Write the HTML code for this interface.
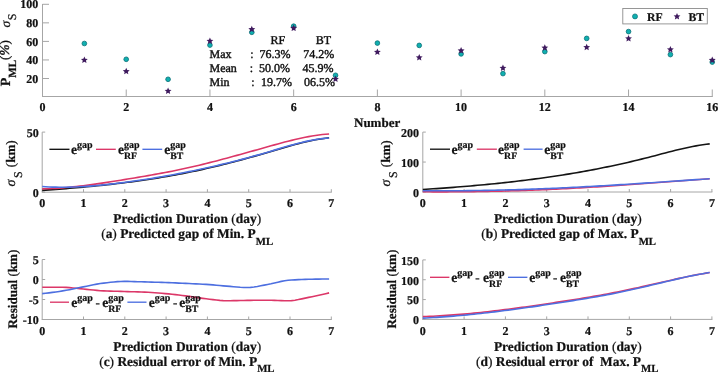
<!DOCTYPE html>
<html><head><meta charset="utf-8"><style>
html,body{margin:0;padding:0;background:#fff;width:718px;height:372px;overflow:hidden}
svg{display:block}
text{font-family:"Liberation Serif",serif;fill:#111;stroke:#111;stroke-width:0.22px;text-rendering:geometricPrecision}
svg{filter:blur(0.3px)}
text[font-weight="normal"]{stroke-width:0.4px}
</style></head><body>
<svg width="718" height="372" viewBox="0 0 718 372">
<rect width="718" height="372" fill="#fff"/>
<line x1="42.5" y1="4" x2="42.5" y2="96.5" stroke="#a6a6a6" stroke-width="1"/>
<line x1="42" y1="96.5" x2="712.8" y2="96.5" stroke="#a6a6a6" stroke-width="1"/>
<line x1="42.5" y1="78.50" x2="49" y2="78.50" stroke="#a6a6a6" stroke-width="1"/>
<text x="38.30" y="82.60" font-size="12" font-weight="bold" text-anchor="end"  >20</text>
<line x1="42.5" y1="59.95" x2="49" y2="59.95" stroke="#a6a6a6" stroke-width="1"/>
<text x="38.30" y="64.05" font-size="12" font-weight="bold" text-anchor="end"  >40</text>
<line x1="42.5" y1="41.40" x2="49" y2="41.40" stroke="#a6a6a6" stroke-width="1"/>
<text x="38.30" y="45.50" font-size="12" font-weight="bold" text-anchor="end"  >60</text>
<line x1="42.5" y1="22.85" x2="49" y2="22.85" stroke="#a6a6a6" stroke-width="1"/>
<text x="38.30" y="26.95" font-size="12" font-weight="bold" text-anchor="end"  >80</text>
<line x1="42.5" y1="4.30" x2="49" y2="4.30" stroke="#a6a6a6" stroke-width="1"/>
<text x="38.30" y="8.40" font-size="12" font-weight="bold" text-anchor="end"  >100</text>
<text x="42.50" y="111.30" font-size="12" font-weight="bold" text-anchor="middle"  >0</text>
<line x1="126.22" y1="89.5" x2="126.22" y2="96.5" stroke="#a6a6a6" stroke-width="1"/>
<text x="126.22" y="111.30" font-size="12" font-weight="bold" text-anchor="middle"  >2</text>
<line x1="209.94" y1="89.5" x2="209.94" y2="96.5" stroke="#a6a6a6" stroke-width="1"/>
<text x="209.94" y="111.30" font-size="12" font-weight="bold" text-anchor="middle"  >4</text>
<line x1="293.66" y1="89.5" x2="293.66" y2="96.5" stroke="#a6a6a6" stroke-width="1"/>
<text x="293.66" y="111.30" font-size="12" font-weight="bold" text-anchor="middle"  >6</text>
<line x1="377.38" y1="89.5" x2="377.38" y2="96.5" stroke="#a6a6a6" stroke-width="1"/>
<text x="377.38" y="111.30" font-size="12" font-weight="bold" text-anchor="middle"  >8</text>
<line x1="461.10" y1="89.5" x2="461.10" y2="96.5" stroke="#a6a6a6" stroke-width="1"/>
<text x="461.10" y="111.30" font-size="12" font-weight="bold" text-anchor="middle"  >10</text>
<line x1="544.82" y1="89.5" x2="544.82" y2="96.5" stroke="#a6a6a6" stroke-width="1"/>
<text x="544.82" y="111.30" font-size="12" font-weight="bold" text-anchor="middle"  >12</text>
<line x1="628.54" y1="89.5" x2="628.54" y2="96.5" stroke="#a6a6a6" stroke-width="1"/>
<text x="628.54" y="111.30" font-size="12" font-weight="bold" text-anchor="middle"  >14</text>
<line x1="712.26" y1="89.5" x2="712.26" y2="96.5" stroke="#a6a6a6" stroke-width="1"/>
<text x="712.26" y="111.30" font-size="12" font-weight="bold" text-anchor="middle"  >16</text>
<text x="354.00" y="127.20" font-size="13" font-weight="bold" text-anchor="start"  >Number</text>
<circle cx="84.36" cy="43.50" r="2.35" fill="#10b0b0" stroke="#0a6f76" stroke-width="0.8"/>
<circle cx="126.22" cy="59.30" r="2.35" fill="#10b0b0" stroke="#0a6f76" stroke-width="0.8"/>
<circle cx="168.08" cy="79.30" r="2.35" fill="#10b0b0" stroke="#0a6f76" stroke-width="0.8"/>
<circle cx="209.94" cy="45.10" r="2.35" fill="#10b0b0" stroke="#0a6f76" stroke-width="0.8"/>
<circle cx="251.80" cy="32.30" r="2.35" fill="#10b0b0" stroke="#0a6f76" stroke-width="0.8"/>
<circle cx="293.66" cy="26.20" r="2.35" fill="#10b0b0" stroke="#0a6f76" stroke-width="0.8"/>
<circle cx="335.52" cy="75.30" r="2.35" fill="#10b0b0" stroke="#0a6f76" stroke-width="0.8"/>
<circle cx="377.38" cy="43.10" r="2.35" fill="#10b0b0" stroke="#0a6f76" stroke-width="0.8"/>
<circle cx="419.24" cy="45.40" r="2.35" fill="#10b0b0" stroke="#0a6f76" stroke-width="0.8"/>
<circle cx="461.10" cy="53.90" r="2.35" fill="#10b0b0" stroke="#0a6f76" stroke-width="0.8"/>
<circle cx="502.96" cy="73.60" r="2.35" fill="#10b0b0" stroke="#0a6f76" stroke-width="0.8"/>
<circle cx="544.82" cy="51.60" r="2.35" fill="#10b0b0" stroke="#0a6f76" stroke-width="0.8"/>
<circle cx="586.68" cy="38.40" r="2.35" fill="#10b0b0" stroke="#0a6f76" stroke-width="0.8"/>
<circle cx="628.54" cy="31.60" r="2.35" fill="#10b0b0" stroke="#0a6f76" stroke-width="0.8"/>
<circle cx="670.40" cy="54.60" r="2.35" fill="#10b0b0" stroke="#0a6f76" stroke-width="0.8"/>
<circle cx="712.26" cy="62.10" r="2.35" fill="#10b0b0" stroke="#0a6f76" stroke-width="0.8"/>
<polygon points="84.36,56.50 85.35,58.73 87.78,58.99 85.97,60.62 86.48,63.01 84.36,61.79 82.24,63.01 82.75,60.62 80.94,58.99 83.37,58.73" fill="#3f1a5e"/>
<polygon points="126.22,67.80 127.21,70.03 129.64,70.29 127.83,71.92 128.34,74.31 126.22,73.09 124.10,74.31 124.61,71.92 122.80,70.29 125.23,70.03" fill="#3f1a5e"/>
<polygon points="168.08,87.50 169.07,89.73 171.50,89.99 169.69,91.62 170.20,94.01 168.08,92.79 165.96,94.01 166.47,91.62 164.66,89.99 167.09,89.73" fill="#3f1a5e"/>
<polygon points="209.94,37.40 210.93,39.63 213.36,39.89 211.55,41.52 212.06,43.91 209.94,42.69 207.82,43.91 208.33,41.52 206.52,39.89 208.95,39.63" fill="#3f1a5e"/>
<polygon points="251.80,25.80 252.79,28.03 255.22,28.29 253.41,29.92 253.92,32.31 251.80,31.09 249.68,32.31 250.19,29.92 248.38,28.29 250.81,28.03" fill="#3f1a5e"/>
<polygon points="293.66,24.60 294.65,26.83 297.08,27.09 295.27,28.72 295.78,31.11 293.66,29.89 291.54,31.11 292.05,28.72 290.24,27.09 292.67,26.83" fill="#3f1a5e"/>
<polygon points="335.52,75.40 336.51,77.63 338.94,77.89 337.13,79.52 337.64,81.91 335.52,80.69 333.40,81.91 333.91,79.52 332.10,77.89 334.53,77.63" fill="#3f1a5e"/>
<polygon points="377.38,48.40 378.37,50.63 380.80,50.89 378.99,52.52 379.50,54.91 377.38,53.69 375.26,54.91 375.77,52.52 373.96,50.89 376.39,50.63" fill="#3f1a5e"/>
<polygon points="419.24,54.00 420.23,56.23 422.66,56.49 420.85,58.12 421.36,60.51 419.24,59.29 417.12,60.51 417.63,58.12 415.82,56.49 418.25,56.23" fill="#3f1a5e"/>
<polygon points="461.10,47.10 462.09,49.33 464.52,49.59 462.71,51.22 463.22,53.61 461.10,52.39 458.98,53.61 459.49,51.22 457.68,49.59 460.11,49.33" fill="#3f1a5e"/>
<polygon points="502.96,64.40 503.95,66.63 506.38,66.89 504.57,68.52 505.08,70.91 502.96,69.69 500.84,70.91 501.35,68.52 499.54,66.89 501.97,66.63" fill="#3f1a5e"/>
<polygon points="544.82,44.20 545.81,46.43 548.24,46.69 546.43,48.32 546.94,50.71 544.82,49.49 542.70,50.71 543.21,48.32 541.40,46.69 543.83,46.43" fill="#3f1a5e"/>
<polygon points="586.68,43.70 587.67,45.93 590.10,46.19 588.29,47.82 588.80,50.21 586.68,48.99 584.56,50.21 585.07,47.82 583.26,46.19 585.69,45.93" fill="#3f1a5e"/>
<polygon points="628.54,35.00 629.53,37.23 631.96,37.49 630.15,39.12 630.66,41.51 628.54,40.29 626.42,41.51 626.93,39.12 625.12,37.49 627.55,37.23" fill="#3f1a5e"/>
<polygon points="670.40,45.90 671.39,48.13 673.82,48.39 672.01,50.02 672.52,52.41 670.40,51.19 668.28,52.41 668.79,50.02 666.98,48.39 669.41,48.13" fill="#3f1a5e"/>
<polygon points="712.26,56.60 713.25,58.83 715.68,59.09 713.87,60.72 714.38,63.11 712.26,61.89 710.14,63.11 710.65,60.72 708.84,59.09 711.27,58.83" fill="#3f1a5e"/>
<rect x="622.8" y="8.5" width="84.5" height="15.4" fill="#fff" stroke="#8c8c8c" stroke-width="0.9"/>
<circle cx="635" cy="16.4" r="2.5" fill="#10b0b0" stroke="#0a6f76" stroke-width="0.7"/>
<text x="647.00" y="20.50" font-size="11.7" font-weight="bold" text-anchor="start"  >RF</text>
<polygon points="677.00,13.00 677.99,15.23 680.42,15.49 678.61,17.12 679.12,19.51 677.00,18.29 674.88,19.51 675.39,17.12 673.58,15.49 676.01,15.23" fill="#3f1a5e"/>
<text x="688.50" y="20.50" font-size="11.7" font-weight="bold" text-anchor="start"  >BT</text>
<text x="270.60" y="44.20" font-size="12" font-weight="normal" text-anchor="start"  >RF</text>
<text x="315.80" y="43.60" font-size="12" font-weight="normal" text-anchor="start"  >BT</text>
<text x="209.50" y="58.20" font-size="12" font-weight="normal" text-anchor="start"  >Max</text>
<text x="251.80" y="58.20" font-size="12" font-weight="normal" text-anchor="middle"  >:</text>
<text x="259.60" y="58.20" font-size="12" font-weight="normal" text-anchor="start"  >76.3%</text>
<text x="303.30" y="58.20" font-size="12" font-weight="normal" text-anchor="start"  >74.2%</text>
<text x="209.50" y="71.90" font-size="12" font-weight="normal" text-anchor="start"  >Mean</text>
<text x="251.30" y="71.90" font-size="12" font-weight="normal" text-anchor="middle"  >:</text>
<text x="259.00" y="71.90" font-size="12" font-weight="normal" text-anchor="start"  >50.0%</text>
<text x="302.50" y="71.90" font-size="12" font-weight="normal" text-anchor="start"  >45.9%</text>
<text x="209.50" y="85.60" font-size="12" font-weight="normal" text-anchor="start"  >Min</text>
<text x="253.00" y="85.60" font-size="12" font-weight="normal" text-anchor="middle"  >:</text>
<text x="261.00" y="85.60" font-size="12" font-weight="normal" text-anchor="start"  >19.7%</text>
<text x="304.00" y="85.60" font-size="12" font-weight="normal" text-anchor="start"  >06.5%</text>
<g transform="translate(10.2,86.3) rotate(-90)"><text x="0" y="0" font-size="14" font-weight="bold">P<tspan font-size="11" dy="5.8">ML</tspan><tspan font-size="13" font-weight="normal" dy="-7.5" dx="-0.1"><tspan font-weight="normal">(</tspan><tspan font-style="italic" font-weight="bold" font-size="13.6">%</tspan><tspan font-weight="normal">)</tspan></tspan></text></g>
<g transform="translate(10.2,27.4) rotate(-90)"><text x="0" y="0" font-size="13.5" font-style="italic">&#963;<tspan font-size="12" font-style="normal" dy="6" dx="0.5">S</tspan></text></g>
<line x1="42.20" y1="132.10" x2="42.20" y2="192.20" stroke="#a6a6a6" stroke-width="1"/>
<line x1="41.70" y1="192.20" x2="331.80" y2="192.20" stroke="#a6a6a6" stroke-width="1"/>
<line x1="42.20" y1="192.20" x2="45.20" y2="192.20" stroke="#a6a6a6" stroke-width="1"/>
<text x="38.70" y="197.00" font-size="12" font-weight="bold" text-anchor="end"  >0</text>
<line x1="42.20" y1="132.10" x2="45.20" y2="132.10" stroke="#a6a6a6" stroke-width="1"/>
<text x="38.70" y="136.90" font-size="12" font-weight="bold" text-anchor="end"  >50</text>
<text x="42.20" y="207.40" font-size="12" font-weight="bold" text-anchor="middle"  >0</text>
<line x1="83.50" y1="189.20" x2="83.50" y2="192.20" stroke="#a6a6a6" stroke-width="1"/>
<text x="83.50" y="207.40" font-size="12" font-weight="bold" text-anchor="middle"  >1</text>
<line x1="124.80" y1="189.20" x2="124.80" y2="192.20" stroke="#a6a6a6" stroke-width="1"/>
<text x="124.80" y="207.40" font-size="12" font-weight="bold" text-anchor="middle"  >2</text>
<line x1="166.10" y1="189.20" x2="166.10" y2="192.20" stroke="#a6a6a6" stroke-width="1"/>
<text x="166.10" y="207.40" font-size="12" font-weight="bold" text-anchor="middle"  >3</text>
<line x1="207.40" y1="189.20" x2="207.40" y2="192.20" stroke="#a6a6a6" stroke-width="1"/>
<text x="207.40" y="207.40" font-size="12" font-weight="bold" text-anchor="middle"  >4</text>
<line x1="248.70" y1="189.20" x2="248.70" y2="192.20" stroke="#a6a6a6" stroke-width="1"/>
<text x="248.70" y="207.40" font-size="12" font-weight="bold" text-anchor="middle"  >5</text>
<line x1="290.00" y1="189.20" x2="290.00" y2="192.20" stroke="#a6a6a6" stroke-width="1"/>
<text x="290.00" y="207.40" font-size="12" font-weight="bold" text-anchor="middle"  >6</text>
<line x1="331.30" y1="189.20" x2="331.30" y2="192.20" stroke="#a6a6a6" stroke-width="1"/>
<text x="331.30" y="207.40" font-size="12" font-weight="bold" text-anchor="middle"  >7</text>
<path d="M42.20,190.39 L45.62,190.15 L49.03,189.90 L52.45,189.65 L55.86,189.39 L59.28,189.13 L62.69,188.86 L66.11,188.59 L69.52,188.31 L72.94,188.02 L76.35,187.73 L79.77,187.43 L83.19,187.12 L86.60,186.81 L90.02,186.48 L93.43,186.15 L96.85,185.81 L100.26,185.46 L103.68,185.11 L107.09,184.74 L110.51,184.36 L113.92,183.98 L117.34,183.58 L120.76,183.17 L124.17,182.75 L127.59,182.32 L131.00,181.88 L134.42,181.43 L137.83,180.96 L141.25,180.48 L144.66,179.99 L148.08,179.49 L151.50,178.97 L154.91,178.44 L158.33,177.89 L161.74,177.33 L165.16,176.75 L168.57,176.16 L171.99,175.55 L175.40,174.93 L178.82,174.29 L182.23,173.64 L185.65,172.97 L189.07,172.28 L192.48,171.57 L195.90,170.85 L199.31,170.11 L202.73,169.36 L206.14,168.59 L209.56,167.80 L212.97,167.00 L216.39,166.19 L219.80,165.36 L223.22,164.52 L226.64,163.66 L230.05,162.80 L233.47,161.91 L236.88,161.02 L240.30,160.11 L243.71,159.19 L247.13,158.26 L250.54,157.32 L253.96,156.36 L257.38,155.40 L260.79,154.42 L264.21,153.44 L267.62,152.44 L271.04,151.44 L274.45,150.43 L277.87,149.42 L281.28,148.42 L284.70,147.43 L288.11,146.45 L291.53,145.50 L294.95,144.57 L298.36,143.67 L301.78,142.81 L305.19,141.99 L308.61,141.21 L312.02,140.49 L315.44,139.83 L318.85,139.22 L322.27,138.69 L325.68,138.22 L329.10,137.83" fill="none" stroke="#141414" stroke-width="1.6" stroke-linejoin="round"/>
<path d="M42.20,188.91 L45.62,188.82 L49.03,188.70 L52.45,188.53 L55.86,188.34 L59.28,188.11 L62.69,187.85 L66.11,187.57 L69.52,187.25 L72.94,186.91 L76.35,186.54 L79.77,186.15 L83.19,185.74 L86.60,185.30 L90.02,184.85 L93.43,184.38 L96.85,183.90 L100.26,183.40 L103.68,182.88 L107.09,182.36 L110.51,181.83 L113.92,181.29 L117.34,180.74 L120.76,180.19 L124.17,179.63 L127.59,179.07 L131.00,178.51 L134.42,177.94 L137.83,177.37 L141.25,176.80 L144.66,176.21 L148.08,175.62 L151.50,175.02 L154.91,174.41 L158.33,173.79 L161.74,173.16 L165.16,172.52 L168.57,171.86 L171.99,171.18 L175.40,170.50 L178.82,169.79 L182.23,169.07 L185.65,168.33 L189.07,167.57 L192.48,166.79 L195.90,165.99 L199.31,165.18 L202.73,164.35 L206.14,163.51 L209.56,162.65 L212.97,161.78 L216.39,160.90 L219.80,160.00 L223.22,159.10 L226.64,158.18 L230.05,157.26 L233.47,156.33 L236.88,155.39 L240.30,154.45 L243.71,153.50 L247.13,152.55 L250.54,151.59 L253.96,150.63 L257.38,149.67 L260.79,148.71 L264.21,147.75 L267.62,146.79 L271.04,145.83 L274.45,144.88 L277.87,143.94 L281.28,143.01 L284.70,142.10 L288.11,141.22 L291.53,140.36 L294.95,139.54 L298.36,138.75 L301.78,138.00 L305.19,137.29 L308.61,136.64 L312.02,136.03 L315.44,135.49 L318.85,135.00 L322.27,134.58 L325.68,134.23 L329.10,133.95" fill="none" stroke="#dc3768" stroke-width="1.6" stroke-linejoin="round"/>
<path d="M42.20,186.53 L45.62,186.76 L49.03,186.94 L52.45,187.08 L55.86,187.17 L59.28,187.23 L62.69,187.24 L66.11,187.22 L69.52,187.16 L72.94,187.07 L76.35,186.94 L79.77,186.78 L83.19,186.59 L86.60,186.37 L90.02,186.12 L93.43,185.85 L96.85,185.55 L100.26,185.23 L103.68,184.88 L107.09,184.52 L110.51,184.13 L113.92,183.73 L117.34,183.31 L120.76,182.88 L124.17,182.44 L127.59,181.98 L131.00,181.51 L134.42,181.03 L137.83,180.53 L141.25,180.03 L144.66,179.51 L148.08,178.98 L151.50,178.44 L154.91,177.89 L158.33,177.32 L161.74,176.74 L165.16,176.15 L168.57,175.55 L171.99,174.93 L175.40,174.30 L178.82,173.66 L182.23,173.00 L185.65,172.33 L189.07,171.65 L192.48,170.95 L195.90,170.24 L199.31,169.52 L202.73,168.79 L206.14,168.04 L209.56,167.27 L212.97,166.50 L216.39,165.71 L219.80,164.90 L223.22,164.09 L226.64,163.25 L230.05,162.41 L233.47,161.55 L236.88,160.68 L240.30,159.79 L243.71,158.89 L247.13,157.97 L250.54,157.04 L253.96,156.10 L257.38,155.14 L260.79,154.17 L264.21,153.18 L267.62,152.18 L271.04,151.16 L274.45,150.14 L277.87,149.12 L281.28,148.10 L284.70,147.09 L288.11,146.10 L291.53,145.13 L294.95,144.20 L298.36,143.30 L301.78,142.45 L305.19,141.65 L308.61,140.90 L312.02,140.22 L315.44,139.61 L318.85,139.07 L322.27,138.62 L325.68,138.26 L329.10,137.99" fill="none" stroke="#4d6fe0" stroke-width="1.6" stroke-linejoin="round"/>
<line x1="49.40" y1="149.30" x2="69.50" y2="149.30" stroke="#141414" stroke-width="1.35"/>
<text x="71.00" y="153.60" font-size="13.6" font-weight="bold" text-anchor="start"  >e</text>
<text x="77.00" y="147.90" font-size="10" font-weight="bold" text-anchor="start"  >gap</text>
<line x1="96.00" y1="149.30" x2="115.80" y2="149.30" stroke="#dc3768" stroke-width="1.35"/>
<text x="117.90" y="153.60" font-size="13.6" font-weight="bold" text-anchor="start"  >e</text>
<text x="123.90" y="147.90" font-size="10" font-weight="bold" text-anchor="start"  >gap</text>
<text x="123.90" y="159.10" font-size="9.8" font-weight="bold" text-anchor="start"  >RF</text>
<line x1="142.40" y1="149.30" x2="162.20" y2="149.30" stroke="#4d6fe0" stroke-width="1.35"/>
<text x="164.30" y="153.60" font-size="13.6" font-weight="bold" text-anchor="start"  >e</text>
<text x="170.30" y="147.90" font-size="10" font-weight="bold" text-anchor="start"  >gap</text>
<text x="170.30" y="159.10" font-size="9.8" font-weight="bold" text-anchor="start"  >BT</text>
<g transform="translate(15.20,186.60) rotate(-90)"><text x="0" y="0"><tspan font-size="14" font-style="italic">&#963;</tspan><tspan font-size="12" dy="6.9" dx="1.6">S</tspan><tspan font-size="13.1" font-weight="bold" dy="-7.1" dx="0.9"> <tspan font-weight="normal">(</tspan>km<tspan font-weight="normal">)</tspan></tspan></text></g>
<text x="187.20" y="222.90" font-size="13.4" font-weight="bold" text-anchor="middle"  >Prediction Duration <tspan font-weight="normal">(</tspan>day<tspan font-weight="normal">)</tspan></text>
<text x="101.20" y="238.20" font-size="13.4" font-weight="bold"><tspan font-weight="normal">(</tspan>a<tspan font-weight="normal">)</tspan> Predicted gap of Min. P<tspan font-size="10.8" dy="6.6">ML</tspan></text>
<line x1="422.80" y1="132.10" x2="422.80" y2="192.00" stroke="#a6a6a6" stroke-width="1"/>
<line x1="422.30" y1="192.00" x2="712.40" y2="192.00" stroke="#a6a6a6" stroke-width="1"/>
<line x1="422.80" y1="192.00" x2="425.80" y2="192.00" stroke="#a6a6a6" stroke-width="1"/>
<text x="419.00" y="196.80" font-size="12" font-weight="bold" text-anchor="end"  >0</text>
<line x1="422.80" y1="162.05" x2="425.80" y2="162.05" stroke="#a6a6a6" stroke-width="1"/>
<text x="419.00" y="166.85" font-size="12" font-weight="bold" text-anchor="end"  >100</text>
<line x1="422.80" y1="132.10" x2="425.80" y2="132.10" stroke="#a6a6a6" stroke-width="1"/>
<text x="419.00" y="136.90" font-size="12" font-weight="bold" text-anchor="end"  >200</text>
<text x="422.80" y="207.40" font-size="12" font-weight="bold" text-anchor="middle"  >0</text>
<line x1="464.10" y1="189.00" x2="464.10" y2="192.00" stroke="#a6a6a6" stroke-width="1"/>
<text x="464.10" y="207.40" font-size="12" font-weight="bold" text-anchor="middle"  >1</text>
<line x1="505.40" y1="189.00" x2="505.40" y2="192.00" stroke="#a6a6a6" stroke-width="1"/>
<text x="505.40" y="207.40" font-size="12" font-weight="bold" text-anchor="middle"  >2</text>
<line x1="546.70" y1="189.00" x2="546.70" y2="192.00" stroke="#a6a6a6" stroke-width="1"/>
<text x="546.70" y="207.40" font-size="12" font-weight="bold" text-anchor="middle"  >3</text>
<line x1="588.00" y1="189.00" x2="588.00" y2="192.00" stroke="#a6a6a6" stroke-width="1"/>
<text x="588.00" y="207.40" font-size="12" font-weight="bold" text-anchor="middle"  >4</text>
<line x1="629.30" y1="189.00" x2="629.30" y2="192.00" stroke="#a6a6a6" stroke-width="1"/>
<text x="629.30" y="207.40" font-size="12" font-weight="bold" text-anchor="middle"  >5</text>
<line x1="670.60" y1="189.00" x2="670.60" y2="192.00" stroke="#a6a6a6" stroke-width="1"/>
<text x="670.60" y="207.40" font-size="12" font-weight="bold" text-anchor="middle"  >6</text>
<line x1="711.90" y1="189.00" x2="711.90" y2="192.00" stroke="#a6a6a6" stroke-width="1"/>
<text x="711.90" y="207.40" font-size="12" font-weight="bold" text-anchor="middle"  >7</text>
<path d="M422.80,189.51 L426.22,189.28 L429.63,189.06 L433.05,188.82 L436.46,188.59 L439.88,188.35 L443.29,188.10 L446.71,187.85 L450.12,187.59 L453.54,187.33 L456.95,187.06 L460.37,186.79 L463.79,186.51 L467.20,186.22 L470.62,185.93 L474.03,185.63 L477.45,185.32 L480.86,185.01 L484.28,184.69 L487.69,184.36 L491.11,184.03 L494.53,183.69 L497.94,183.34 L501.36,182.98 L504.77,182.61 L508.19,182.24 L511.60,181.85 L515.02,181.46 L518.43,181.06 L521.85,180.65 L525.26,180.23 L528.68,179.80 L532.10,179.36 L535.51,178.91 L538.93,178.45 L542.34,177.98 L545.76,177.50 L549.17,177.01 L552.59,176.51 L556.00,176.00 L559.42,175.48 L562.83,174.94 L566.25,174.39 L569.67,173.84 L573.08,173.27 L576.50,172.68 L579.91,172.09 L583.33,171.48 L586.74,170.86 L590.16,170.23 L593.57,169.59 L596.99,168.93 L600.40,168.26 L603.82,167.58 L607.24,166.88 L610.65,166.17 L614.07,165.44 L617.48,164.71 L620.90,163.96 L624.31,163.19 L627.73,162.41 L631.14,161.62 L634.56,160.81 L637.98,159.98 L641.39,159.14 L644.81,158.29 L648.22,157.42 L651.64,156.54 L655.05,155.65 L658.47,154.75 L661.88,153.85 L665.30,152.95 L668.71,152.07 L672.13,151.20 L675.55,150.34 L678.96,149.51 L682.38,148.71 L685.79,147.94 L689.21,147.21 L692.62,146.52 L696.04,145.88 L699.45,145.30 L702.87,144.77 L706.28,144.30 L709.70,143.90" fill="none" stroke="#141414" stroke-width="1.6" stroke-linejoin="round"/>
<path d="M422.80,191.78 L426.22,191.80 L429.63,191.82 L433.05,191.83 L436.46,191.84 L439.88,191.84 L443.29,191.84 L446.71,191.83 L450.12,191.82 L453.54,191.80 L456.95,191.78 L460.37,191.76 L463.79,191.73 L467.20,191.69 L470.62,191.66 L474.03,191.61 L477.45,191.56 L480.86,191.51 L484.28,191.45 L487.69,191.39 L491.11,191.32 L494.53,191.25 L497.94,191.17 L501.36,191.09 L504.77,191.00 L508.19,190.91 L511.60,190.81 L515.02,190.71 L518.43,190.61 L521.85,190.50 L525.26,190.38 L528.68,190.26 L532.10,190.14 L535.51,190.01 L538.93,189.87 L542.34,189.73 L545.76,189.59 L549.17,189.44 L552.59,189.28 L556.00,189.12 L559.42,188.96 L562.83,188.79 L566.25,188.61 L569.67,188.43 L573.08,188.25 L576.50,188.06 L579.91,187.87 L583.33,187.67 L586.74,187.47 L590.16,187.26 L593.57,187.05 L596.99,186.84 L600.40,186.62 L603.82,186.40 L607.24,186.18 L610.65,185.95 L614.07,185.72 L617.48,185.49 L620.90,185.26 L624.31,185.02 L627.73,184.78 L631.14,184.54 L634.56,184.29 L637.98,184.05 L641.39,183.80 L644.81,183.55 L648.22,183.30 L651.64,183.05 L655.05,182.79 L658.47,182.54 L661.88,182.28 L665.30,182.03 L668.71,181.77 L672.13,181.51 L675.55,181.25 L678.96,181.00 L682.38,180.74 L685.79,180.48 L689.21,180.23 L692.62,179.97 L696.04,179.71 L699.45,179.46 L702.87,179.20 L706.28,178.95 L709.70,178.70" fill="none" stroke="#dc3768" stroke-width="1.6" stroke-linejoin="round"/>
<path d="M422.80,190.68 L426.22,190.71 L429.63,190.73 L433.05,190.75 L436.46,190.76 L439.88,190.77 L443.29,190.77 L446.71,190.77 L450.12,190.77 L453.54,190.75 L456.95,190.74 L460.37,190.71 L463.79,190.69 L467.20,190.65 L470.62,190.62 L474.03,190.57 L477.45,190.53 L480.86,190.48 L484.28,190.42 L487.69,190.36 L491.11,190.29 L494.53,190.22 L497.94,190.15 L501.36,190.07 L504.77,189.98 L508.19,189.89 L511.60,189.80 L515.02,189.70 L518.43,189.60 L521.85,189.49 L525.26,189.38 L528.68,189.27 L532.10,189.15 L535.51,189.02 L538.93,188.89 L542.34,188.76 L545.76,188.62 L549.17,188.48 L552.59,188.34 L556.00,188.19 L559.42,188.04 L562.83,187.88 L566.25,187.72 L569.67,187.55 L573.08,187.38 L576.50,187.21 L579.91,187.03 L583.33,186.85 L586.74,186.67 L590.16,186.48 L593.57,186.29 L596.99,186.10 L600.40,185.90 L603.82,185.70 L607.24,185.50 L610.65,185.30 L614.07,185.09 L617.48,184.88 L620.90,184.67 L624.31,184.45 L627.73,184.24 L631.14,184.02 L634.56,183.80 L637.98,183.58 L641.39,183.36 L644.81,183.13 L648.22,182.91 L651.64,182.68 L655.05,182.45 L658.47,182.22 L661.88,181.99 L665.30,181.76 L668.71,181.53 L672.13,181.30 L675.55,181.07 L678.96,180.84 L682.38,180.60 L685.79,180.37 L689.21,180.14 L692.62,179.91 L696.04,179.67 L699.45,179.44 L702.87,179.21 L706.28,178.98 L709.70,178.75" fill="none" stroke="#4d6fe0" stroke-width="1.6" stroke-linejoin="round"/>
<line x1="430.00" y1="149.20" x2="450.00" y2="149.20" stroke="#141414" stroke-width="1.35"/>
<text x="451.50" y="153.50" font-size="13.6" font-weight="bold" text-anchor="start"  >e</text>
<text x="457.50" y="147.80" font-size="10" font-weight="bold" text-anchor="start"  >gap</text>
<line x1="476.80" y1="149.20" x2="496.90" y2="149.20" stroke="#dc3768" stroke-width="1.35"/>
<text x="498.10" y="153.50" font-size="13.6" font-weight="bold" text-anchor="start"  >e</text>
<text x="504.10" y="147.80" font-size="10" font-weight="bold" text-anchor="start"  >gap</text>
<text x="504.10" y="159.00" font-size="9.8" font-weight="bold" text-anchor="start"  >RF</text>
<line x1="523.60" y1="149.20" x2="542.60" y2="149.20" stroke="#4d6fe0" stroke-width="1.35"/>
<text x="544.30" y="153.50" font-size="13.6" font-weight="bold" text-anchor="start"  >e</text>
<text x="550.30" y="147.80" font-size="10" font-weight="bold" text-anchor="start"  >gap</text>
<text x="550.30" y="159.00" font-size="9.8" font-weight="bold" text-anchor="start"  >BT</text>
<g transform="translate(390.20,186.60) rotate(-90)"><text x="0" y="0"><tspan font-size="14" font-style="italic">&#963;</tspan><tspan font-size="12" dy="6.9" dx="1.6">S</tspan><tspan font-size="13.1" font-weight="bold" dy="-7.1" dx="0.9"> <tspan font-weight="normal">(</tspan>km<tspan font-weight="normal">)</tspan></tspan></text></g>
<text x="567.80" y="222.90" font-size="13.4" font-weight="bold" text-anchor="middle"  >Prediction Duration <tspan font-weight="normal">(</tspan>day<tspan font-weight="normal">)</tspan></text>
<text x="481.20" y="238.20" font-size="13.4" font-weight="bold"><tspan font-weight="normal">(</tspan>b<tspan font-weight="normal">)</tspan> Predicted gap of Max. P<tspan font-size="10.8" dy="6.6">ML</tspan></text>
<line x1="42.20" y1="259.60" x2="42.20" y2="319.50" stroke="#a6a6a6" stroke-width="1"/>
<line x1="41.70" y1="319.50" x2="331.80" y2="319.50" stroke="#a6a6a6" stroke-width="1"/>
<line x1="42.20" y1="259.50" x2="45.20" y2="259.50" stroke="#a6a6a6" stroke-width="1"/>
<text x="38.70" y="264.30" font-size="12" font-weight="bold" text-anchor="end"  >5</text>
<line x1="42.20" y1="279.50" x2="45.20" y2="279.50" stroke="#a6a6a6" stroke-width="1"/>
<text x="38.70" y="284.30" font-size="12" font-weight="bold" text-anchor="end"  >0</text>
<line x1="42.20" y1="299.50" x2="45.20" y2="299.50" stroke="#a6a6a6" stroke-width="1"/>
<text x="38.70" y="304.30" font-size="12" font-weight="bold" text-anchor="end"  >-5</text>
<line x1="42.20" y1="319.50" x2="45.20" y2="319.50" stroke="#a6a6a6" stroke-width="1"/>
<text x="38.70" y="324.30" font-size="12" font-weight="bold" text-anchor="end"  >-10</text>
<text x="42.20" y="334.90" font-size="12" font-weight="bold" text-anchor="middle"  >0</text>
<line x1="83.50" y1="316.50" x2="83.50" y2="319.50" stroke="#a6a6a6" stroke-width="1"/>
<text x="83.50" y="334.90" font-size="12" font-weight="bold" text-anchor="middle"  >1</text>
<line x1="124.80" y1="316.50" x2="124.80" y2="319.50" stroke="#a6a6a6" stroke-width="1"/>
<text x="124.80" y="334.90" font-size="12" font-weight="bold" text-anchor="middle"  >2</text>
<line x1="166.10" y1="316.50" x2="166.10" y2="319.50" stroke="#a6a6a6" stroke-width="1"/>
<text x="166.10" y="334.90" font-size="12" font-weight="bold" text-anchor="middle"  >3</text>
<line x1="207.40" y1="316.50" x2="207.40" y2="319.50" stroke="#a6a6a6" stroke-width="1"/>
<text x="207.40" y="334.90" font-size="12" font-weight="bold" text-anchor="middle"  >4</text>
<line x1="248.70" y1="316.50" x2="248.70" y2="319.50" stroke="#a6a6a6" stroke-width="1"/>
<text x="248.70" y="334.90" font-size="12" font-weight="bold" text-anchor="middle"  >5</text>
<line x1="290.00" y1="316.50" x2="290.00" y2="319.50" stroke="#a6a6a6" stroke-width="1"/>
<text x="290.00" y="334.90" font-size="12" font-weight="bold" text-anchor="middle"  >6</text>
<line x1="331.30" y1="316.50" x2="331.30" y2="319.50" stroke="#a6a6a6" stroke-width="1"/>
<text x="331.30" y="334.90" font-size="12" font-weight="bold" text-anchor="middle"  >7</text>
<path d="M42.20,287.30 L45.62,287.30 L49.03,287.30 L52.45,287.30 L55.86,287.30 L59.28,287.30 L62.69,287.30 L66.11,287.38 L69.52,287.61 L72.94,287.93 L76.35,288.29 L79.77,288.67 L83.19,289.00 L86.60,289.33 L90.02,289.69 L93.43,290.06 L96.85,290.41 L100.26,290.70 L103.68,290.90 L107.09,291.04 L110.51,291.15 L113.92,291.24 L117.34,291.32 L120.76,291.41 L124.17,291.50 L127.59,291.59 L131.00,291.68 L134.42,291.77 L137.83,291.86 L141.25,291.97 L144.66,292.10 L148.08,292.27 L151.50,292.48 L154.91,292.73 L158.33,293.01 L161.74,293.30 L165.16,293.60 L168.57,293.92 L171.99,294.28 L175.40,294.66 L178.82,295.06 L182.23,295.47 L185.65,295.90 L189.07,296.36 L192.48,296.86 L195.90,297.38 L199.31,297.90 L202.73,298.38 L206.14,298.80 L209.56,299.21 L212.97,299.63 L216.39,300.04 L219.80,300.38 L223.22,300.61 L226.64,300.70 L230.05,300.68 L233.47,300.64 L236.88,300.58 L240.30,300.51 L243.71,300.45 L247.13,300.40 L250.54,300.36 L253.96,300.31 L257.38,300.27 L260.79,300.23 L264.21,300.21 L267.62,300.20 L271.04,300.24 L274.45,300.36 L277.87,300.50 L281.28,300.64 L284.70,300.76 L288.11,300.80 L291.53,300.64 L294.95,300.21 L298.36,299.58 L301.78,298.86 L305.19,298.10 L308.61,297.40 L312.02,296.74 L315.44,296.03 L318.85,295.30 L322.27,294.53 L325.68,293.73 L329.10,292.90" fill="none" stroke="#dc3768" stroke-width="1.6" stroke-linejoin="round"/>
<path d="M42.20,293.60 L45.62,293.24 L49.03,292.84 L52.45,292.40 L55.86,291.93 L59.28,291.43 L62.69,290.90 L66.11,290.32 L69.52,289.67 L72.94,288.98 L76.35,288.28 L79.77,287.57 L83.19,286.90 L86.60,286.22 L90.02,285.51 L93.43,284.81 L96.85,284.14 L100.26,283.56 L103.68,283.10 L107.09,282.70 L110.51,282.31 L113.92,281.96 L117.34,281.67 L120.76,281.47 L124.17,281.40 L127.59,281.42 L131.00,281.49 L134.42,281.58 L137.83,281.69 L141.25,281.80 L144.66,281.90 L148.08,281.99 L151.50,282.08 L154.91,282.18 L158.33,282.28 L161.74,282.38 L165.16,282.50 L168.57,282.63 L171.99,282.77 L175.40,282.92 L178.82,283.08 L182.23,283.24 L185.65,283.40 L189.07,283.55 L192.48,283.71 L195.90,283.86 L199.31,284.02 L202.73,284.20 L206.14,284.40 L209.56,284.64 L212.97,284.91 L216.39,285.22 L219.80,285.53 L223.22,285.83 L226.64,286.10 L230.05,286.38 L233.47,286.69 L236.88,286.99 L240.30,287.25 L243.71,287.43 L247.13,287.50 L250.54,287.36 L253.96,286.98 L257.38,286.44 L260.79,285.80 L264.21,285.13 L267.62,284.50 L271.04,283.82 L274.45,283.01 L277.87,282.16 L281.28,281.37 L284.70,280.72 L288.11,280.30 L291.53,280.05 L294.95,279.84 L298.36,279.66 L301.78,279.51 L305.19,279.39 L308.61,279.30 L312.02,279.22 L315.44,279.15 L318.85,279.09 L322.27,279.04 L325.68,279.01 L329.10,279.00" fill="none" stroke="#4d6fe0" stroke-width="1.6" stroke-linejoin="round"/>
<line x1="50.00" y1="302.20" x2="69.00" y2="302.20" stroke="#dc3768" stroke-width="1.35"/>
<text x="71.20" y="306.50" font-size="13.6" font-weight="bold" text-anchor="start"  >e</text>
<text x="77.20" y="300.80" font-size="10" font-weight="bold" text-anchor="start"  >gap</text>
<text x="95.50" y="306.60" font-size="13" font-weight="bold" text-anchor="start"  >-</text>
<text x="102.30" y="306.50" font-size="13.6" font-weight="bold" text-anchor="start"  >e</text>
<text x="108.30" y="300.80" font-size="10" font-weight="bold" text-anchor="start"  >gap</text>
<text x="108.30" y="312.00" font-size="9.8" font-weight="bold" text-anchor="start"  >RF</text>
<line x1="127.40" y1="302.20" x2="146.50" y2="302.20" stroke="#4d6fe0" stroke-width="1.35"/>
<text x="148.70" y="306.50" font-size="13.6" font-weight="bold" text-anchor="start"  >e</text>
<text x="154.70" y="300.80" font-size="10" font-weight="bold" text-anchor="start"  >gap</text>
<text x="173.00" y="306.60" font-size="13" font-weight="bold" text-anchor="start"  >-</text>
<text x="179.30" y="306.50" font-size="13.6" font-weight="bold" text-anchor="start"  >e</text>
<text x="185.30" y="300.80" font-size="10" font-weight="bold" text-anchor="start"  >gap</text>
<text x="185.30" y="312.00" font-size="9.8" font-weight="bold" text-anchor="start"  >BT</text>
<g transform="translate(16.90,328.60) rotate(-90)"><text x="0" y="0"><tspan font-size="13.1" font-weight="bold">Residual <tspan font-weight="normal">(</tspan>km<tspan font-weight="normal">)</tspan></tspan></text></g>
<text x="187.20" y="350.60" font-size="13.4" font-weight="bold" text-anchor="middle"  >Prediction Duration <tspan font-weight="normal">(</tspan>day<tspan font-weight="normal">)</tspan></text>
<text x="99.20" y="365.80" font-size="13.4" font-weight="bold"><tspan font-weight="normal">(</tspan>c<tspan font-weight="normal">)</tspan> Residual error of Min. P<tspan font-size="10.8" dy="6.6">ML</tspan></text>
<line x1="422.80" y1="259.90" x2="422.80" y2="319.40" stroke="#a6a6a6" stroke-width="1"/>
<line x1="422.30" y1="319.40" x2="712.40" y2="319.40" stroke="#a6a6a6" stroke-width="1"/>
<line x1="422.80" y1="319.40" x2="425.80" y2="319.40" stroke="#a6a6a6" stroke-width="1"/>
<text x="419.00" y="324.20" font-size="12" font-weight="bold" text-anchor="end"  >0</text>
<line x1="422.80" y1="299.57" x2="425.80" y2="299.57" stroke="#a6a6a6" stroke-width="1"/>
<text x="419.00" y="304.37" font-size="12" font-weight="bold" text-anchor="end"  >50</text>
<line x1="422.80" y1="279.73" x2="425.80" y2="279.73" stroke="#a6a6a6" stroke-width="1"/>
<text x="419.00" y="284.53" font-size="12" font-weight="bold" text-anchor="end"  >100</text>
<line x1="422.80" y1="259.90" x2="425.80" y2="259.90" stroke="#a6a6a6" stroke-width="1"/>
<text x="419.00" y="264.70" font-size="12" font-weight="bold" text-anchor="end"  >150</text>
<text x="422.80" y="334.90" font-size="12" font-weight="bold" text-anchor="middle"  >0</text>
<line x1="464.10" y1="316.40" x2="464.10" y2="319.40" stroke="#a6a6a6" stroke-width="1"/>
<text x="464.10" y="334.90" font-size="12" font-weight="bold" text-anchor="middle"  >1</text>
<line x1="505.40" y1="316.40" x2="505.40" y2="319.40" stroke="#a6a6a6" stroke-width="1"/>
<text x="505.40" y="334.90" font-size="12" font-weight="bold" text-anchor="middle"  >2</text>
<line x1="546.70" y1="316.40" x2="546.70" y2="319.40" stroke="#a6a6a6" stroke-width="1"/>
<text x="546.70" y="334.90" font-size="12" font-weight="bold" text-anchor="middle"  >3</text>
<line x1="588.00" y1="316.40" x2="588.00" y2="319.40" stroke="#a6a6a6" stroke-width="1"/>
<text x="588.00" y="334.90" font-size="12" font-weight="bold" text-anchor="middle"  >4</text>
<line x1="629.30" y1="316.40" x2="629.30" y2="319.40" stroke="#a6a6a6" stroke-width="1"/>
<text x="629.30" y="334.90" font-size="12" font-weight="bold" text-anchor="middle"  >5</text>
<line x1="670.60" y1="316.40" x2="670.60" y2="319.40" stroke="#a6a6a6" stroke-width="1"/>
<text x="670.60" y="334.90" font-size="12" font-weight="bold" text-anchor="middle"  >6</text>
<line x1="711.90" y1="316.40" x2="711.90" y2="319.40" stroke="#a6a6a6" stroke-width="1"/>
<text x="711.90" y="334.90" font-size="12" font-weight="bold" text-anchor="middle"  >7</text>
<path d="M422.80,316.62 L426.22,316.50 L429.63,316.35 L433.05,316.20 L436.46,316.02 L439.88,315.83 L443.29,315.62 L446.71,315.40 L450.12,315.17 L453.54,314.92 L456.95,314.65 L460.37,314.37 L463.79,314.08 L467.20,313.77 L470.62,313.46 L474.03,313.13 L477.45,312.79 L480.86,312.43 L484.28,312.07 L487.69,311.69 L491.11,311.30 L494.53,310.91 L497.94,310.50 L501.36,310.08 L504.77,309.66 L508.19,309.23 L511.60,308.78 L515.02,308.33 L518.43,307.87 L521.85,307.41 L525.26,306.93 L528.68,306.45 L532.10,305.97 L535.51,305.48 L538.93,304.98 L542.34,304.47 L545.76,303.97 L549.17,303.45 L552.59,302.94 L556.00,302.41 L559.42,301.89 L562.83,301.36 L566.25,300.83 L569.67,300.30 L573.08,299.76 L576.50,299.22 L579.91,298.67 L583.33,298.12 L586.74,297.55 L590.16,296.98 L593.57,296.40 L596.99,295.81 L600.40,295.20 L603.82,294.59 L607.24,293.95 L610.65,293.31 L614.07,292.64 L617.48,291.97 L620.90,291.28 L624.31,290.58 L627.73,289.86 L631.14,289.14 L634.56,288.40 L637.98,287.66 L641.39,286.90 L644.81,286.14 L648.22,285.37 L651.64,284.59 L655.05,283.81 L658.47,283.02 L661.88,282.24 L665.30,281.46 L668.71,280.68 L672.13,279.91 L675.55,279.15 L678.96,278.40 L682.38,277.66 L685.79,276.94 L689.21,276.24 L692.62,275.56 L696.04,274.90 L699.45,274.27 L702.87,273.67 L706.28,273.10 L709.70,272.56" fill="none" stroke="#dc3768" stroke-width="1.6" stroke-linejoin="round"/>
<path d="M422.80,318.09 L426.22,317.93 L429.63,317.75 L433.05,317.56 L436.46,317.35 L439.88,317.13 L443.29,316.89 L446.71,316.64 L450.12,316.37 L453.54,316.10 L456.95,315.81 L460.37,315.51 L463.79,315.19 L467.20,314.86 L470.62,314.53 L474.03,314.18 L477.45,313.82 L480.86,313.45 L484.28,313.07 L487.69,312.68 L491.11,312.28 L494.53,311.87 L497.94,311.45 L501.36,311.02 L504.77,310.58 L508.19,310.14 L511.60,309.69 L515.02,309.23 L518.43,308.76 L521.85,308.29 L525.26,307.81 L528.68,307.33 L532.10,306.84 L535.51,306.34 L538.93,305.84 L542.34,305.33 L545.76,304.82 L549.17,304.30 L552.59,303.79 L556.00,303.26 L559.42,302.74 L562.83,302.21 L566.25,301.68 L569.67,301.14 L573.08,300.60 L576.50,300.06 L579.91,299.51 L583.33,298.96 L586.74,298.39 L590.16,297.82 L593.57,297.23 L596.99,296.64 L600.40,296.02 L603.82,295.40 L607.24,294.76 L610.65,294.10 L614.07,293.42 L617.48,292.73 L620.90,292.02 L624.31,291.30 L627.73,290.56 L631.14,289.82 L634.56,289.05 L637.98,288.28 L641.39,287.50 L644.81,286.70 L648.22,285.90 L651.64,285.09 L655.05,284.27 L658.47,283.45 L661.88,282.63 L665.30,281.81 L668.71,280.99 L672.13,280.18 L675.55,279.38 L678.96,278.60 L682.38,277.83 L685.79,277.07 L689.21,276.34 L692.62,275.63 L696.04,274.95 L699.45,274.29 L702.87,273.67 L706.28,273.08 L709.70,272.52" fill="none" stroke="#4d6fe0" stroke-width="1.6" stroke-linejoin="round"/>
<line x1="430.00" y1="277.30" x2="449.40" y2="277.30" stroke="#dc3768" stroke-width="1.35"/>
<text x="451.20" y="281.60" font-size="13.6" font-weight="bold" text-anchor="start"  >e</text>
<text x="457.20" y="275.90" font-size="10" font-weight="bold" text-anchor="start"  >gap</text>
<text x="475.30" y="281.70" font-size="13" font-weight="bold" text-anchor="start"  >-</text>
<text x="483.10" y="281.60" font-size="13.6" font-weight="bold" text-anchor="start"  >e</text>
<text x="489.10" y="275.90" font-size="10" font-weight="bold" text-anchor="start"  >gap</text>
<text x="489.10" y="287.10" font-size="9.8" font-weight="bold" text-anchor="start"  >RF</text>
<line x1="508.00" y1="277.30" x2="527.40" y2="277.30" stroke="#4d6fe0" stroke-width="1.35"/>
<text x="529.20" y="281.60" font-size="13.6" font-weight="bold" text-anchor="start"  >e</text>
<text x="535.20" y="275.90" font-size="10" font-weight="bold" text-anchor="start"  >gap</text>
<text x="553.00" y="281.70" font-size="13" font-weight="bold" text-anchor="start"  >-</text>
<text x="560.00" y="281.60" font-size="13.6" font-weight="bold" text-anchor="start"  >e</text>
<text x="566.00" y="275.90" font-size="10" font-weight="bold" text-anchor="start"  >gap</text>
<text x="566.00" y="287.10" font-size="9.8" font-weight="bold" text-anchor="start"  >BT</text>
<g transform="translate(396.10,328.60) rotate(-90)"><text x="0" y="0"><tspan font-size="13.1" font-weight="bold">Residual <tspan font-weight="normal">(</tspan>km<tspan font-weight="normal">)</tspan></tspan></text></g>
<text x="567.80" y="350.60" font-size="13.4" font-weight="bold" text-anchor="middle"  >Prediction Duration <tspan font-weight="normal">(</tspan>day<tspan font-weight="normal">)</tspan></text>
<text x="476.00" y="365.80" font-size="13.4" font-weight="bold"><tspan font-weight="normal">(</tspan>d<tspan font-weight="normal">)</tspan> Residual error of &#160;Max. P<tspan font-size="10.8" dy="6.6">ML</tspan></text>
</svg>
</body></html>
